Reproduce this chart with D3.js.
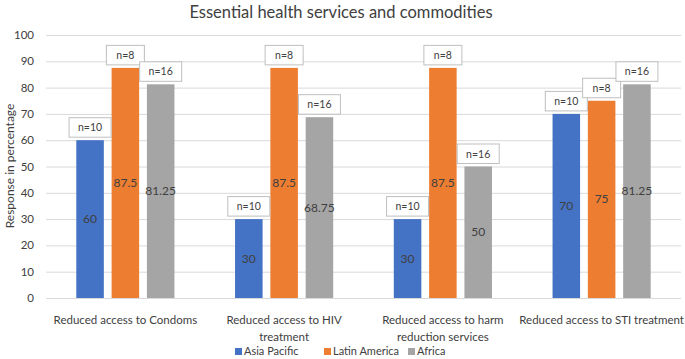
<!DOCTYPE html>
<html lang='en'>
	<head>
		<title>Essential health services and commodities</title>
		<script type='text/javascript' src='https://cdn.jsdelivr.net/npm/d3@7'></script>
		<style>
			body { margin: 0; background: #fff; }
			text { font-family: Lato, 'Open Sans', sans-serif; }
		</style>
	</head>
	<body>
		<script type='text/javascript'>
			var categories = ['Reduced access to Condoms', 'Reduced access to HIV treatment', 'Reduced access to harm reduction services', 'Reduced access to STI treatment'];
			var category_lines = [['Reduced access to Condoms'], ['Reduced access to HIV', 'treatment'], ['Reduced access to harm', 'reduction services'], ['Reduced access to STI treatment']];
			var series = ['Asia Pacific', 'Latin America', 'Africa'];
			var asia_pacific = [60, 30, 30, 70];
			var latin_america = [87.5, 87.5, 87.5, 75];
			var africa = [81.25, 68.75, 50, 81.25];
			var sample_sizes = ['n=10', 'n=8', 'n=16'];
			var y_ticks = [0, 10, 20, 30, 40, 50, 60, 70, 80, 90, 100];
			var colors = ['#4472C4', '#ED7D31', '#A5A5A5'];

			var width = 685, height = 359;
			var svg = d3.select('body').append('svg').attr('width', width).attr('height', height);

			var values = [asia_pacific, latin_america, africa];
			var bars = [];
			series.forEach(function(s, si) {
				categories.forEach(function(c, ci) {
					bars.push({series: s, si: si, cat: c, value: values[si][ci], n: sample_sizes[si]});
				});
			});

			var x0 = d3.scaleBand().domain(categories).range([46, 681]);
			var x1 = d3.scaleBand().domain(series).range([0, x0.bandwidth()]).paddingInner(0.22).paddingOuter(0.858);
			var y = d3.scaleLinear().domain([0, 100]).range([298, 35]);

			// gridlines
			svg.append('g').selectAll('line').data(y_ticks).enter().append('line')
				.attr('x1', 46).attr('x2', 681)
				.attr('y1', d => y(d) + 0.5).attr('y2', d => y(d) + 0.5)
				.attr('stroke', '#d9d9d9').attr('stroke-width', 1);

			// y tick labels
			svg.append('g').selectAll('text').data(y_ticks).enter().append('text')
				.attr('x', 34).attr('y', d => y(d) + 4)
				.attr('text-anchor', 'end').attr('font-size', 11.5).attr('fill', '#404040')
				.text(d => d);

			// bars
			svg.append('g').selectAll('rect').data(bars).enter().append('rect')
				.attr('x', d => x0(d.cat) + x1(d.series))
				.attr('y', d => y(d.value))
				.attr('width', x1.bandwidth())
				.attr('height', d => y(0) - y(d.value))
				.attr('fill', d => colors[d.si]);

			// value labels
			svg.append('g').selectAll('text').data(bars).enter().append('text')
				.attr('x', d => x0(d.cat) + x1(d.series) + x1.bandwidth() / 2)
				.attr('y', d => (y(d.value) + y(0)) / 2 + 4)
				.attr('text-anchor', 'middle').attr('font-size', 12).attr('fill', '#404040')
				.text(d => d.value);

			// n= boxes
			var boxes = svg.append('g').selectAll('g').data(bars).enter().append('g')
				.attr('transform', d => 'translate(' + (x0(d.cat) + x1(d.series) + x1.bandwidth() / 2) + ',' + (y(d.value) - 3) + ')');
			boxes.append('rect')
				.attr('x', d => d.n.length > 3 ? -21 : -19)
				.attr('y', -19.5)
				.attr('width', d => d.n.length > 3 ? 42 : 38)
				.attr('height', 19.5)
				.attr('fill', '#fff').attr('stroke', '#bfbfbf').attr('stroke-width', 1);
			boxes.append('text')
				.attr('y', -6).attr('text-anchor', 'middle')
				.attr('font-size', 10.5).attr('fill', '#404040')
				.text(d => d.n);

			// category labels
			var cat_g = svg.append('g').selectAll('text').data(categories).enter().append('text')
				.attr('x', d => x0(d) + x0.bandwidth() / 2)
				.attr('y', 324)
				.attr('text-anchor', 'middle').attr('font-size', 11.5).attr('fill', '#404040');
			cat_g.selectAll('tspan').data((d, i) => category_lines[i]).enter().append('tspan')
				.attr('x', function() { return d3.select(this.parentNode).attr('x'); })
				.attr('dy', (d, i) => i === 0 ? 0 : 17)
				.text(d => d);

			// title
			svg.append('text').attr('x', 341).attr('y', 18)
				.attr('text-anchor', 'middle').attr('font-size', 16.5).attr('fill', '#404040')
				.text('Essential health services and commodities');

			// y axis title
			svg.append('text')
				.attr('transform', 'translate(14,166) rotate(-90)')
				.attr('text-anchor', 'middle').attr('font-size', 12).attr('fill', '#404040')
				.text('Response in percentage');

			// legend
			var legend_x = [235, 324, 408];
			var legend = svg.append('g').selectAll('g').data(series).enter().append('g')
				.attr('transform', (d, i) => 'translate(' + legend_x[i] + ',355)');
			legend.append('rect').attr('x', 0).attr('y', -7).attr('width', 7).attr('height', 7)
				.attr('fill', (d, i) => colors[i]);
			legend.append('text').attr('x', 9).attr('y', 0)
				.attr('font-size', 11).attr('fill', '#404040')
				.text(d => d);
		</script>
	</body>
</html>
